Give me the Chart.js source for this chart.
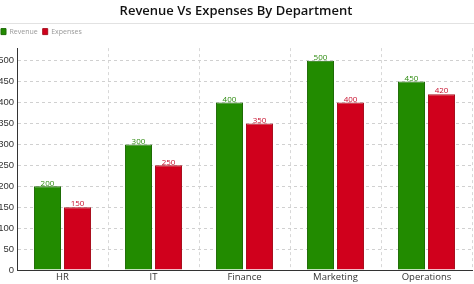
<!DOCTYPE html>
<html><head><meta charset="utf-8">
<script src="https://cdn.jsdelivr.net/npm/chart.js@4.4.0/dist/chart.umd.min.js"></script>
<style>html,body{margin:0;padding:0;background:#fff;}#wrap{width:474px;height:284px;}</style>
</head><body><div id="wrap"><canvas id="c" width="474" height="284"></canvas></div>
<script>
const categories = ["HR", "IT", "Finance", "Marketing", "Operations"];
const revenue = [200, 300, 400, 500, 450];
const expenses = [150, 250, 350, 400, 420];
const seriesNames = ["Revenue", "Expenses"];
const yTicks = [0, 50, 100, 150, 200, 250, 300, 350, 400, 450, 500];
const titleText = "Revenue Vs Expenses By Department";

const sepLine = {
  id: 'sepLine',
  beforeLayout(chart) {
    const lg = chart.legend;
    if (lg && !lg._patched) {
      const orig = lg.fit.bind(lg);
      lg.fit = function () { orig(); this.height += 3; };
      lg._patched = true;
    }
  },
  afterLayout(chart) {
    const lg = chart.legend;
    if (lg) { lg.left -= 4; lg.right -= 4; }
  },
  afterDraw(chart) {
    const t = chart.titleBlock;
    const ctx = chart.ctx;
    ctx.save();
    ctx.strokeStyle = '#e2e2e2';
    ctx.lineWidth = 1;
    const y = Math.round(t.bottom) + 0.5;
    ctx.beginPath(); ctx.moveTo(0, y); ctx.lineTo(chart.width, y); ctx.stroke();
    ctx.restore();
  }
};
const valueLabels = {
  id: 'valueLabels',
  afterDatasetsDraw(chart) {
    const ctx = chart.ctx;
    ctx.save();
    ctx.font = '8px "Open Sans"';
    ctx.textAlign = 'center';
    ctx.textBaseline = 'bottom';
    chart.data.datasets.forEach((ds, i) => {
      const meta = chart.getDatasetMeta(i);
      ctx.fillStyle = ds.labelColor;
      meta.data.forEach((el, j) => {
        ctx.fillText(String(ds.data[j]), el.x, el.y + 1);
      });
    });
    ctx.restore();
  }
};

new Chart(document.getElementById('c'), {
  type: 'bar',
  data: {
    labels: categories,
    datasets: [
      { label: seriesNames[0], data: revenue, backgroundColor: '#228b00', borderColor: '#1d6b05', borderWidth: 1, labelColor: '#2e8b10',
        categoryPercentage: 0.66, barPercentage: 0.9 },
      { label: seriesNames[1], data: expenses, backgroundColor: '#d0001c', borderColor: '#a8101f', borderWidth: 1, labelColor: '#c8102e',
        categoryPercentage: 0.66, barPercentage: 0.9 }
    ]
  },
  options: {
    responsive: false,
    animation: false,
    layout: { padding: { left: 0, right: 2, top: 0, bottom: 0 } },
    plugins: {
      title: { display: true, text: titleText, color: '#111', font: { family: 'Open Sans', size: 13, weight: '600' }, padding: { top: 3, bottom: 4.5 } },
      legend: { display: true, align: 'start', labels: { boxWidth: 5, boxHeight: 6, padding: 5, color: '#999', font: { family: 'Open Sans', size: 7 } } },
      tooltip: { enabled: false }
    },
    scales: {
      x: {
        grid: { display: true, color: '#d8d8d8', drawTicks: false },
        border: { display: true, color: '#333', width: 1, dash: [3, 3] },
        ticks: { color: '#333', font: { family: 'Open Sans', size: 9.5 }, padding: 2 },
        afterFit(s) { s.height = 14; }
      },
      y: {
        min: 0, max: 530,
        grid: { color: '#d0d0d0', drawTicks: false },
        border: { display: true, color: '#333', width: 1, dash: [3, 3] },
        afterBuildTicks(s) { s.ticks = yTicks.map(v => ({ value: v })); },
        ticks: { autoSkip: false, color: '#333', font: { family: 'Liberation Sans', size: 9.5 }, padding: 3 },
        afterFit(s) { s.width = 17; }
      }
    }
  },
  plugins: [sepLine, valueLabels]
});
</script></body></html>
